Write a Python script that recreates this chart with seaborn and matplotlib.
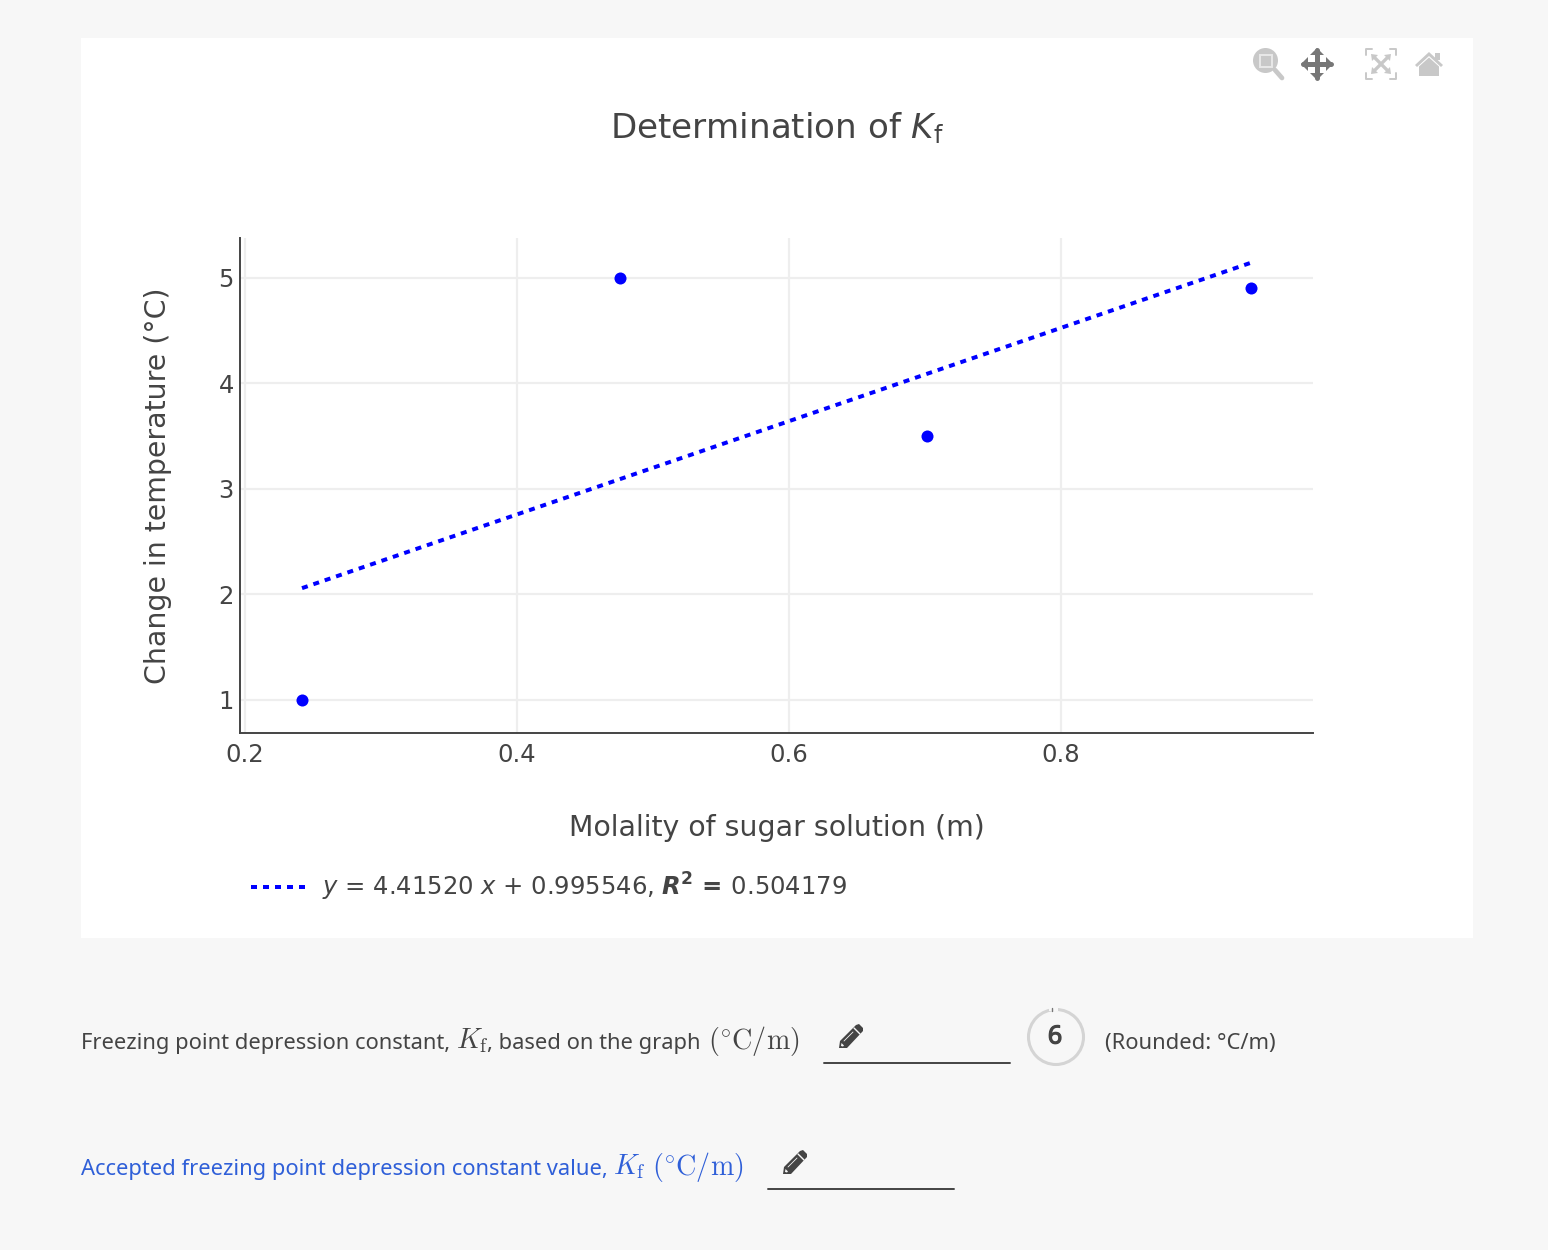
import numpy as np
import pandas as pd
import seaborn as sns
import matplotlib.pyplot as plt
import matplotlib.patheffects as pe
from matplotlib.patches import Rectangle, Circle, Polygon

molality = [0.2419, 0.4757, 0.7015, 0.9400]
delta_t = [1.0, 5.0, 3.5, 4.905]
fit_x = [0.2419, 0.9400]
fit_y = [2.06, 5.146]
x_ticks = [0.2, 0.4, 0.6, 0.8]
y_ticks = [1, 2, 3, 4, 5]

W, H = 1548, 1250
INK = '#444444'
BLUE = '#0000ff'
LINK = '#2f5fd8'
ICON_LIGHT = '#c8c8c8'
ICON_DARK = '#777777'

df = pd.DataFrame({'m': molality, 'dt': delta_t})
fit = pd.DataFrame({'m': fit_x, 'dt': fit_y})

sns.set_theme(style='white')
plt.rcParams['font.family'] = ['DejaVu Sans']

fig = plt.figure(figsize=(W / 100, H / 100), dpi=100, facecolor='#f7f7f7')

# page layer in pixel coordinates
page = fig.add_axes([0, 0, 1, 1], zorder=0)
page.set_xlim(0, W)
page.set_ylim(H, 0)
page.axis('off')
page.add_patch(Rectangle((81, 38), 1392, 900, fc='white', ec='none'))

ax = fig.add_axes([240 / W, 1 - 733 / H, (1313 - 240) / W, (733 - 238) / H], zorder=1)
ax.patch.set_alpha(0)
sns.lineplot(data=fit, x='m', y='dt', color=BLUE, linewidth=2.88, ax=ax,
             label=r'$y$ = 4.41520 $x$ + 0.995546, $\mathbfit{R}^{\mathbf{2}}\,\mathbf{=}\,$0.504179')
ax.lines[0].set_linestyle((0, (1.5, 1.5)))
ax.lines[0].set_dash_capstyle('butt')
sns.scatterplot(data=df, x='m', y='dt', color=BLUE, s=75, linewidth=0, ax=ax, zorder=3, legend=False)

ax.set_xlim(0.1963, 0.9853)
ax.set_ylim(0.687, 5.379)
ax.set_xticks(x_ticks)
ax.set_yticks(y_ticks)
ax.set_xticklabels(['0.2', '0.4', '0.6', '0.8'])
ax.grid(True, color='#eeeeee', linewidth=1.6)
ax.set_axisbelow(True)
sns.despine(ax=ax)
for side in ['left', 'bottom']:
    ax.spines[side].set_color(INK)
    ax.spines[side].set_linewidth(1.4)
ax.tick_params(axis='both', length=0, labelsize=17.5, labelcolor=INK)
ax.tick_params(axis='x', pad=7)
ax.tick_params(axis='y', pad=4.4)
ax.set_xlabel('')
ax.set_ylabel('')

leg = ax.legend(loc='upper left', frameon=False, fontsize=17.5,
                handlelength=2.3, handletextpad=0.62, labelcolor=INK, borderpad=0, borderaxespad=0)
leg.set_bbox_to_anchor((251 / W, 1 - 871 / H), transform=fig.transFigure)

page.text(777, 128, r'Determination of $K_{\mathrm{f}}$', fontsize=24.6, color=INK, ha='center', va='center')
page.text(777, 828, 'Molality of sugar solution (m)', fontsize=20.4, color=INK, ha='center', va='center')
page.text(158, 485.5, 'Change in temperature (°C)', fontsize=20.45, color=INK, ha='center', va='center', rotation=90)


def body(x, y, s, color=INK):
    page.text(x, y, s, fontsize=15.8, color=color, family='Noto Sans', ha='left', va='center')


def tex(x, y, s, color=INK):
    page.text(x, y, s, fontsize=20.2, color=color, math_fontfamily='cm', ha='left', va='center')


def pencil(x, y):
    # small tilted pencil, x/y is the tip
    page.add_patch(Polygon([(x, y), (x + 1, y - 7), (x + 17, y - 23), (x + 20, y - 24), (x + 24, y - 20),
                            (x + 24, y - 17), (x + 8, y)], fc=INK, ec='none'))
    page.add_patch(Polygon([(x + 2, y - 2), (x + 2.5, y - 5), (x + 5, y - 2.5), (x + 4, y - 1.5)], fc='#f7f7f7', ec='none'))
    page.plot([x + 15, x + 21], [y - 20, y - 14], color='#f7f7f7', lw=1)
    page.plot([x + 5, x + 14], [y - 7, y - 16], color='#f7f7f7', lw=0.6)


# answer rows
body(81, 1044, 'Freezing point depression constant,')
tex(456, 1041, r'$K_{\mathrm{f}}$')
body(487, 1044, ', based on the graph')
tex(708, 1041, r'$(^{\circ}\mathrm{C}/\mathrm{m})$')
pencil(839, 1048)
page.plot([824, 1010], [1063, 1063], color=INK, lw=1.4)

page.add_patch(Circle((1056, 1037), 27.5, fc='none', ec='#d4d4d4', lw=2.2))
page.add_patch(Rectangle((1049, 1006), 9, 5, fc='#f7f7f7', ec='none'))
page.plot([1052, 1052], [1008, 1011], color='#777777', lw=1)
page.text(1055, 1037, '6', fontsize=18, family='Noto Sans', color=INK, ha='center', va='center',
          path_effects=[pe.withStroke(linewidth=0.9, foreground=INK)])
body(1105, 1044, '(Rounded: °C/m)')

body(81, 1170, 'Accepted freezing point depression constant value,', LINK)
tex(613, 1167, r'$K_{\mathrm{f}}$', LINK)
tex(652, 1167, r'$(^{\circ}\mathrm{C}/\mathrm{m})$', LINK)
pencil(783, 1174)
page.plot([768, 954], [1189, 1189], color=INK, lw=1.4)

# toolbar icons: zoom
page.add_patch(Circle((1265.5, 60.5), 12.5, fc=ICON_LIGHT, ec='none'))
page.add_patch(Rectangle((1260, 55), 12, 12, fc=ICON_LIGHT, ec='#e8e8e8', lw=1.4))
page.plot([1275, 1282], [70, 78], color=ICON_LIGHT, lw=3.4, solid_capstyle='round')

# pan
page.plot([1303, 1331], [64, 64], color=ICON_DARK, lw=3.6)
page.plot([1317, 1317], [50, 78], color=ICON_DARK, lw=3.6)
for pts in [[(1301, 64), (1308, 57), (1308, 71)], [(1333, 64), (1326, 57), (1326, 71)],
            [(1317, 48), (1310, 55), (1324, 55)], [(1317, 80), (1310, 73), (1324, 73)]]:
    page.add_patch(Polygon(pts, fc=ICON_DARK, ec='none'))

# autoscale
for sx, sy in [(1366, 49), (1396, 49), (1366, 79), (1396, 79)]:
    dx = 6 if sx < 1380 else -6
    dy = 6 if sy < 60 else -6
    page.plot([sx + dx, sx, sx], [sy, sy, sy + dy], color=ICON_LIGHT, lw=1.4)
page.plot([1375, 1387], [58, 70], color=ICON_LIGHT, lw=2.4)
page.plot([1375, 1387], [70, 58], color=ICON_LIGHT, lw=2.4)
for pts in [[(1371, 54), (1378, 55), (1372, 61)], [(1391, 54), (1384, 55), (1390, 61)],
            [(1371, 74), (1378, 73), (1372, 67)], [(1391, 74), (1384, 73), (1390, 67)]]:
    page.add_patch(Polygon(pts, fc=ICON_LIGHT, ec='none'))

# home
page.add_patch(Polygon([(1415, 65), (1429, 52), (1443, 65), (1441, 67), (1429, 56), (1417, 67)], fc=ICON_LIGHT, ec='none'))
page.add_patch(Polygon([(1419, 66.5), (1429, 57.5), (1439, 66.5), (1439, 76), (1419, 76)], fc=ICON_LIGHT, ec='none'))
page.add_patch(Rectangle((1435, 53), 5, 7, fc=ICON_LIGHT, ec='none'))

fig.savefig('out.png', dpi=100, facecolor=fig.get_facecolor())
